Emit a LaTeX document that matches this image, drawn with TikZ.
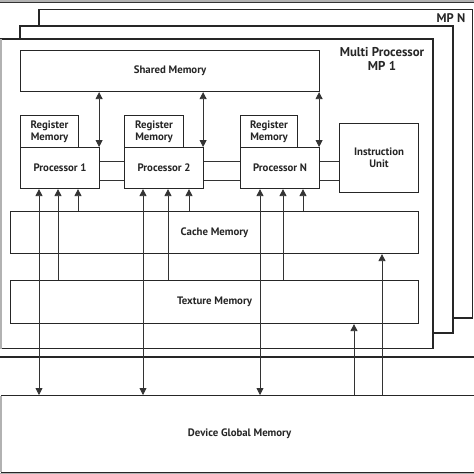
\documentclass[tikz,border=0pt]{standalone}
\usepackage{fontspec}
\setmainfont{PT Sans}
\usetikzlibrary{arrows.meta}
\begin{document}
\begin{tikzpicture}[x=1pt,y=-1pt,
  box/.style={draw=black!85, line width=1.1pt, fill=white, inner sep=0pt, anchor=north west},
  lbl/.style={font=\bfseries\fontsize{10.8}{13}\selectfont, text=black!85, align=center},
  wire/.style={draw=black!80, line width=0.8pt},
  arr/.style={wire, -{Triangle[width=7pt,length=7pt]}},
  darr/.style={wire, {Triangle[width=7pt,length=7pt]}-{Triangle[width=7pt,length=7pt]}}]
\useasboundingbox (0,0) rectangle (474,474);
\fill[white] (0,0) rectangle (474,474);
% image frame bits
\fill[black!30] (0,0) rectangle (474,1.5);
\draw[black!80, line width=1.2pt] (0,2.6) -- (474,2.6);
% multiprocessor stack
\path[box] (39,9.5) rectangle (472.5,318);
\node[lbl, font=\bfseries\fontsize{12.5}{12}\selectfont] (mpn) at (451,18) {MP N};
\path[box] (20,26) rectangle (453,333);
\path[box] (1,39) rectangle (433,348.5);
\draw[black!30, line width=2pt] (1,39) -- (1,348.5);
\node[lbl, font=\bfseries\fontsize{12.8}{14}\selectfont] (mp1) at (382,59) {Multi Processor\\MP 1};
% shared memory
\node[box, minimum width=299pt, minimum height=41pt] (sh) at (20,50) {};
\node[lbl] at (sh.center) {Shared Memory};
% register memories and processors
\node[box, minimum width=58pt, minimum height=32pt, lbl] (r1) at (20,115) {Register\\[-1pt]Memory};
\node[box, minimum width=79pt, minimum height=41pt, lbl] (p1) at (20,147) {Processor 1};
\node[box, minimum width=59pt, minimum height=32pt, lbl] (r2) at (124,115) {Register\\[-1pt]Memory};
\node[box, minimum width=79pt, minimum height=41pt, lbl] (p2) at (124,147) {Processor 2};
\node[box, minimum width=57pt, minimum height=32pt, lbl] (rn) at (240,115) {Register\\[-1pt]Memory};
\node[box, minimum width=79pt, minimum height=41pt, lbl] (pn) at (240,147) {Processor N};
\node[box, minimum width=79pt, minimum height=69pt, lbl] (iu) at (339,123) {Instruction\\[-1pt]Unit};
% cache and texture
\node[box, minimum width=408pt, minimum height=42pt, lbl] (cache) at (10,211) {Cache Memory};
\node[box, minimum width=408pt, minimum height=43pt, lbl] (tex) at (10,280) {Texture Memory};
% global memory
\draw[black!85, line width=1.1pt] (0,357) -- (474,357);
\node[box, minimum width=476pt, minimum height=77pt, lbl] (glob) at (1,395) {Device Global Memory};
\draw[black!30, line width=2pt] (1,395.6) -- (1,471.5);
% processor interconnect lines
\foreach \a/\b in {p1/p2,p2/pn,pn/iu}{
  \draw[wire, line width=1pt] (\a.east |- 0,161) -- (\b.west |- 0,161);
  \draw[wire, line width=1pt] (\a.east |- 0,180) -- (\b.west |- 0,180);
}
% shared <-> processors
\foreach \p in {p1,p2,pn}{
  \coordinate (\p t) at ([xshift=-1pt]\p.north east);
  \draw[darr] (\p t) -- (\p t |- sh.south);
}
% processors <- cache / texture / global
\foreach \p/\xa/\xb/\xc in {p1/39/58/78, p2/143/168/189, pn/260/283/303}{
  \draw[darr] (\xa,0 |- glob.north) -- (\xa,0 |- \p.south);
  \draw[arr] (\xb,0 |- tex.north) -- (\xb,0 |- \p.south);
  \draw[arr] (\xc,0 |- cache.north) -- (\xc,0 |- \p.south);
}
% global -> texture / cache
\draw[arr] (354,0 |- glob.north) -- (354,0 |- tex.south);
\draw[arr] (382,0 |- glob.north) -- (382,0 |- cache.south);
\fill[black!30] (0,472.5) rectangle (474,474);
\end{tikzpicture}
\end{document}
